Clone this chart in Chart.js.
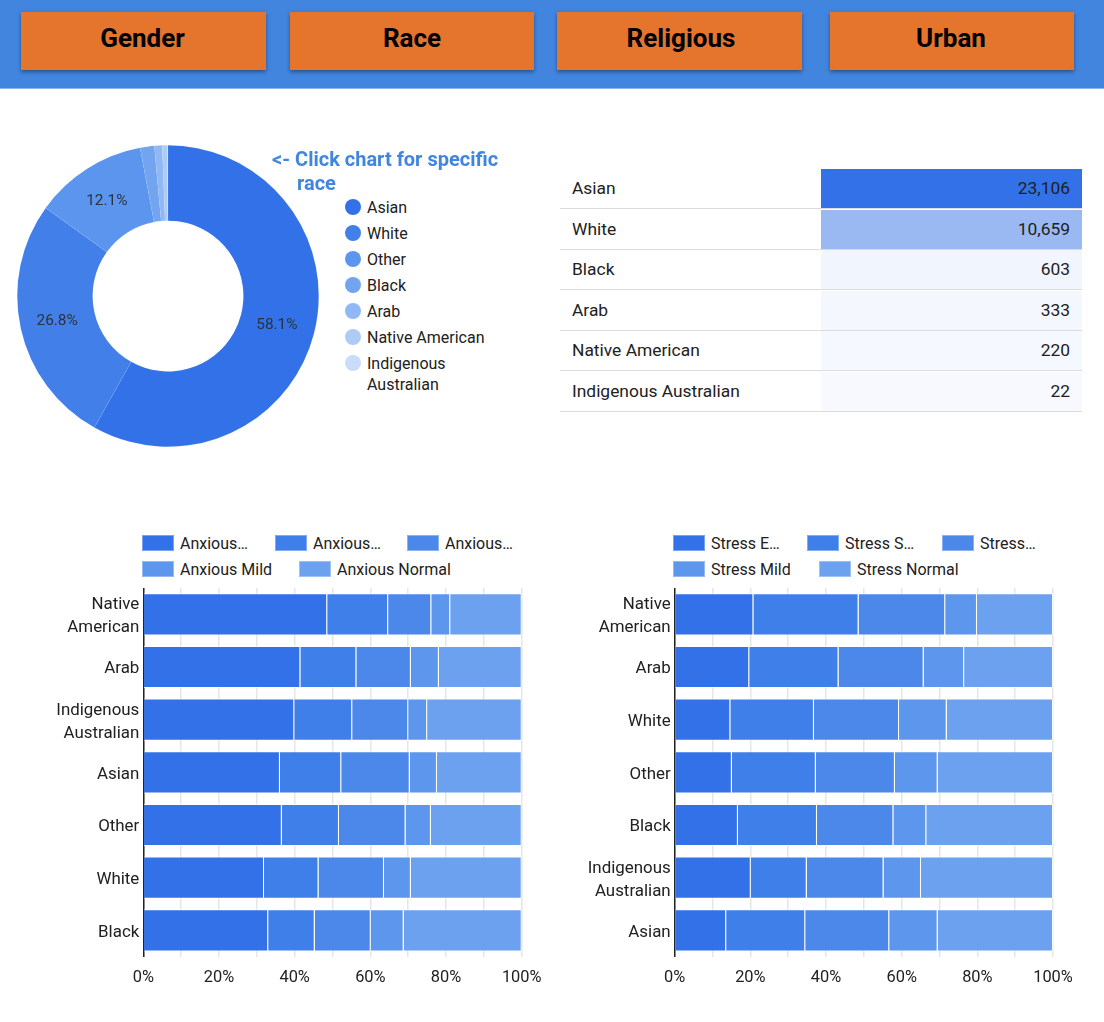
<!DOCTYPE html>
<html>
<head>
<meta charset="utf-8">
<title>Race</title>
<script src="https://cdn.jsdelivr.net/npm/chart.js@4"></script>
<style>
html, body { margin: 0; padding: 0; background: #fff; }
body { position: relative; width: 1104px; height: 1022px; overflow: hidden; font-family: Roboto, sans-serif; color: #212121; }
.abs { position: absolute; }
#header { left: 0; top: 0; width: 1104px; height: 88px; background: #4285df; border-bottom: 1px solid #8fb6ec; }
.btn { top: 12px; height: 58px; background: #e5742d; box-shadow: 0 2px 4px rgba(0,0,0,.4); color: #000; font-weight: 700; font-size: 26px; line-height: 52px; text-align: center; }
#note { left: 272px; top: 148px; color: #4285df; font-weight: 700; font-size: 20px; line-height: 23.5px; white-space: nowrap; }
.dot { width: 16px; height: 16px; border-radius: 50%; }
.ltext { font-size: 16px; line-height: 20.5px; white-space: nowrap; }
.swatch { width: 32px; height: 16px; box-sizing: border-box; border: 1px solid rgba(255,255,255,.35); }
.row { left: 560px; width: 522px; height: 40.4px; box-sizing: border-box; border-bottom: 1px solid #dcdcdc; font-size: 17.4px; line-height: 39px; }
.cell { position: absolute; left: 261px; top: 0; width: 261px; height: 39.4px; }
.name { position: absolute; left: 12px; top: 0; white-space: nowrap; }
.val { position: absolute; right: 12px; top: 0; }
</style>
</head>
<body>
<div id="header" class="abs"></div>
<div class="abs btn" style="left:21px;width:245px;text-indent:-2px">Gender</div>
<div class="abs btn" style="left:290px;width:244px">Race</div>
<div class="abs btn" style="left:557px;width:245px;text-indent:3px">Religious</div>
<div class="abs btn" style="left:830px;width:244px;text-indent:-2px">Urban</div>

<canvas id="raceDonut" class="abs" width="302" height="302" style="left:17px;top:145px"></canvas>
<div id="note" class="abs">&lt;- Click chart for specific<br><span style="margin-left:25px">race</span></div>
<div id="donutLegend"></div>
<div id="raceTable"></div>

<div id="anxiousLegend"></div>
<div id="stressLegend"></div>
<canvas id="anxiousChart" class="abs" width="545" height="410" style="left:0;top:588px"></canvas>
<canvas id="stressChart" class="abs" width="540" height="410" style="left:540px;top:588px"></canvas>

<script>
// race counts
const races = ['Asian', 'White', 'Other', 'Black', 'Arab', 'Native American', 'Indigenous Australian'];
const raceCounts = [23106, 10659, 4812, 603, 333, 220, 22];
const raceColors = ['#3271e8', '#437fe9', '#5b95ee', '#72a4f0', '#90b8f4', '#aecbf6', '#c9dcf9'];

// table leaves out Other
const tableRaces = ['Asian', 'White', 'Black', 'Arab', 'Native American', 'Indigenous Australian'];
const tableCounts = [23106, 10659, 603, 333, 220, 22];
const tableColors = ['#3271e8', '#9ab9f3', '#f1f5fd', '#f4f7fd', '#f5f8fe', '#f7f9fe'];

// anxiety, % of each race
const anxiousRaces = [['Native', 'American'], 'Arab', ['Indigenous', 'Australian'], 'Asian', 'Other', 'White', 'Black'];
const anxiousExtreme = [48.6, 41.5, 39.9, 36.1, 36.6, 31.9, 33.0];
const anxiousSevere = [16.1, 14.8, 15.3, 16.2, 15.1, 14.4, 12.3];
const anxiousModerate = [11.4, 14.4, 14.8, 18.1, 17.6, 17.3, 14.8];
const anxiousMild = [5.0, 7.4, 5.0, 7.2, 6.7, 7.1, 8.7];
const anxiousNormal = [18.9, 21.9, 25.0, 22.4, 24.0, 29.3, 31.2];
const anxiousLabels = ['Anxious Extremely Severe', 'Anxious Severe', 'Anxious Moderate', 'Anxious Mild', 'Anxious Normal'];
const anxiousLegendText = ['Anxious…', 'Anxious…', 'Anxious…', 'Anxious Mild', 'Anxious Normal'];

// stress, % of each race
const stressRaces = [['Native', 'American'], 'Arab', 'White', 'Other', 'Black', ['Indigenous', 'Australian'], 'Asian'];
const stressExtreme = [20.8, 19.7, 14.7, 15.1, 16.7, 20.1, 13.6];
const stressSevere = [27.8, 23.6, 22.1, 22.2, 20.9, 14.8, 20.9];
const stressModerate = [22.9, 22.5, 22.5, 20.9, 20.2, 20.3, 22.2];
const stressMild = [8.4, 10.7, 12.6, 11.3, 8.7, 9.9, 12.8];
const stressNormal = [20.1, 23.5, 28.1, 30.5, 33.5, 34.9, 30.5];
const stressLabels = ['Stress Extremely Severe', 'Stress Severe', 'Stress Moderate', 'Stress Mild', 'Stress Normal'];
const stressLegendText = ['Stress E…', 'Stress S…', 'Stress…', 'Stress Mild', 'Stress Normal'];

const barColors = ['#3271e8', '#3f7fe9', '#4c88ea', '#5c96ed', '#6ca1ef'];

function addEl(parent, cls, style, text) {
  const el = document.createElement('div');
  el.className = 'abs ' + cls;
  el.style.cssText = style;
  if (text !== undefined) el.textContent = text;
  parent.appendChild(el);
  return el;
}

// donut legend
const donutLegend = document.getElementById('donutLegend');
races.forEach((r, i) => {
  const y = 207.3 + i * 26;
  addEl(donutLegend, 'dot', `left:345px;top:${y - 8}px;background:${raceColors[i]}`);
  const label = r == 'Indigenous Australian' ? 'Indigenous\nAustralian' : r;
  addEl(donutLegend, 'ltext', `left:367px;top:${y - 9}px;white-space:pre`, label);
});

// table
const raceTable = document.getElementById('raceTable');
tableRaces.forEach((r, i) => {
  const row = addEl(raceTable, 'row', `top:${169 + i * 40.5}px`);
  row.style.position = 'absolute';
  addEl(row, 'cell', `background:${tableColors[i]}`);
  addEl(row, 'name', '', r);
  addEl(row, 'val', '', tableCounts[i].toLocaleString('en-US'));
});

// bar legends
function drawBarLegend(id, texts, slots) {
  const box = document.getElementById(id);
  texts.forEach((t, i) => {
    const s = slots[i];
    addEl(box, 'swatch', `left:${s[0]}px;top:${s[1]}px;background:${barColors[i]}`);
    addEl(box, 'ltext', `left:${s[0] + 38}px;top:${s[1] - 1}px`, t);
  });
}
drawBarLegend('anxiousLegend', anxiousLegendText, [[142, 535], [275, 535], [407, 535], [142, 561], [299, 561]]);
drawBarLegend('stressLegend', stressLegendText, [[673, 535], [807, 535], [942, 535], [673, 561], [819, 561]]);

// percent labels on the big slices
const sliceLabels = {
  id: 'sliceLabels',
  afterDatasetsDraw(chart) {
    const ctx = chart.ctx;
    const total = raceCounts.reduce((a, b) => a + b, 0);
    ctx.save();
    ctx.font = '15.4px Roboto';
    ctx.fillStyle = '#2b3240';
    ctx.textAlign = 'center';
    ctx.textBaseline = 'middle';
    chart.getDatasetMeta(0).data.forEach((arc, i) => {
      const share = raceCounts[i] / total * 100;
      if (share < 5) return;
      const p = arc.tooltipPosition();
      ctx.fillText(share.toFixed(1) + '%', p.x - 0.5, p.y + 0.5);
    });
    ctx.restore();
  }
};

new Chart(document.getElementById('raceDonut').getContext('2d'), {
  type: 'doughnut',
  data: {
    labels: races,
    datasets: [{ data: raceCounts, backgroundColor: raceColors, borderColor: 'rgba(255,255,255,.12)', borderWidth: 0.5 }]
  },
  options: {
    responsive: false,
    animation: false,
    cutout: '50%',
    plugins: { legend: { display: false }, tooltip: { enabled: false } }
  },
  plugins: [sliceLabels]
});

function stackedBar(id, cats, labels, series, axisWidth, rightPad) {
  new Chart(document.getElementById(id).getContext('2d'), {
    type: 'bar',
    data: {
      labels: cats,
      datasets: series.map((vals, i) => ({
        label: labels[i],
        data: vals,
        backgroundColor: barColors[i],
        borderColor: 'rgba(255,255,255,.75)',
        borderWidth: 1,
        categoryPercentage: 0.8,
        barPercentage: 1
      }))
    },
    options: {
      indexAxis: 'y',
      responsive: false,
      animation: false,
      layout: { padding: { right: rightPad, top: 0, bottom: 0, left: 0 } },
      plugins: { legend: { display: false }, tooltip: { enabled: false } },
      scales: {
        x: {
          stacked: true,
          min: 0,
          max: 100,
          // fixed plot box, no extra room for the end labels
          afterFit(s) { s.height = 41.3; s.paddingLeft = 0; s.paddingRight = 0; },
          border: { display: false },
          grid: { color: '#e6e6e6', lineWidth: 1.5, drawTicks: false },
          ticks: {
            stepSize: 10,
            autoSkip: false,
            maxRotation: 0,
            padding: 11,
            color: '#212121',
            font: { family: 'Roboto', size: 16.4 },
            callback: v => v % 20 == 0 ? v + '%' : ''
          }
        },
        y: {
          stacked: true,
          afterFit(s) { s.width = axisWidth; s.paddingTop = 0; s.paddingBottom = 0; },
          border: { color: '#222', width: 1.5 },
          grid: { display: false, drawTicks: false },
          ticks: {
            padding: 4,
            labelOffset: 2.2,
            autoSkip: false,
            color: '#212121',
            font: { family: 'Roboto', size: 16.9, lineHeight: 1.37 }
          }
        }
      }
    }
  });
}

stackedBar('anxiousChart', anxiousRaces, anxiousLabels,
  [anxiousExtreme, anxiousSevere, anxiousModerate, anxiousMild, anxiousNormal], 143.3, 23.3);
stackedBar('stressChart', stressRaces, stressLabels,
  [stressExtreme, stressSevere, stressModerate, stressMild, stressNormal], 134.7, 27);
</script>
</body>
</html>
